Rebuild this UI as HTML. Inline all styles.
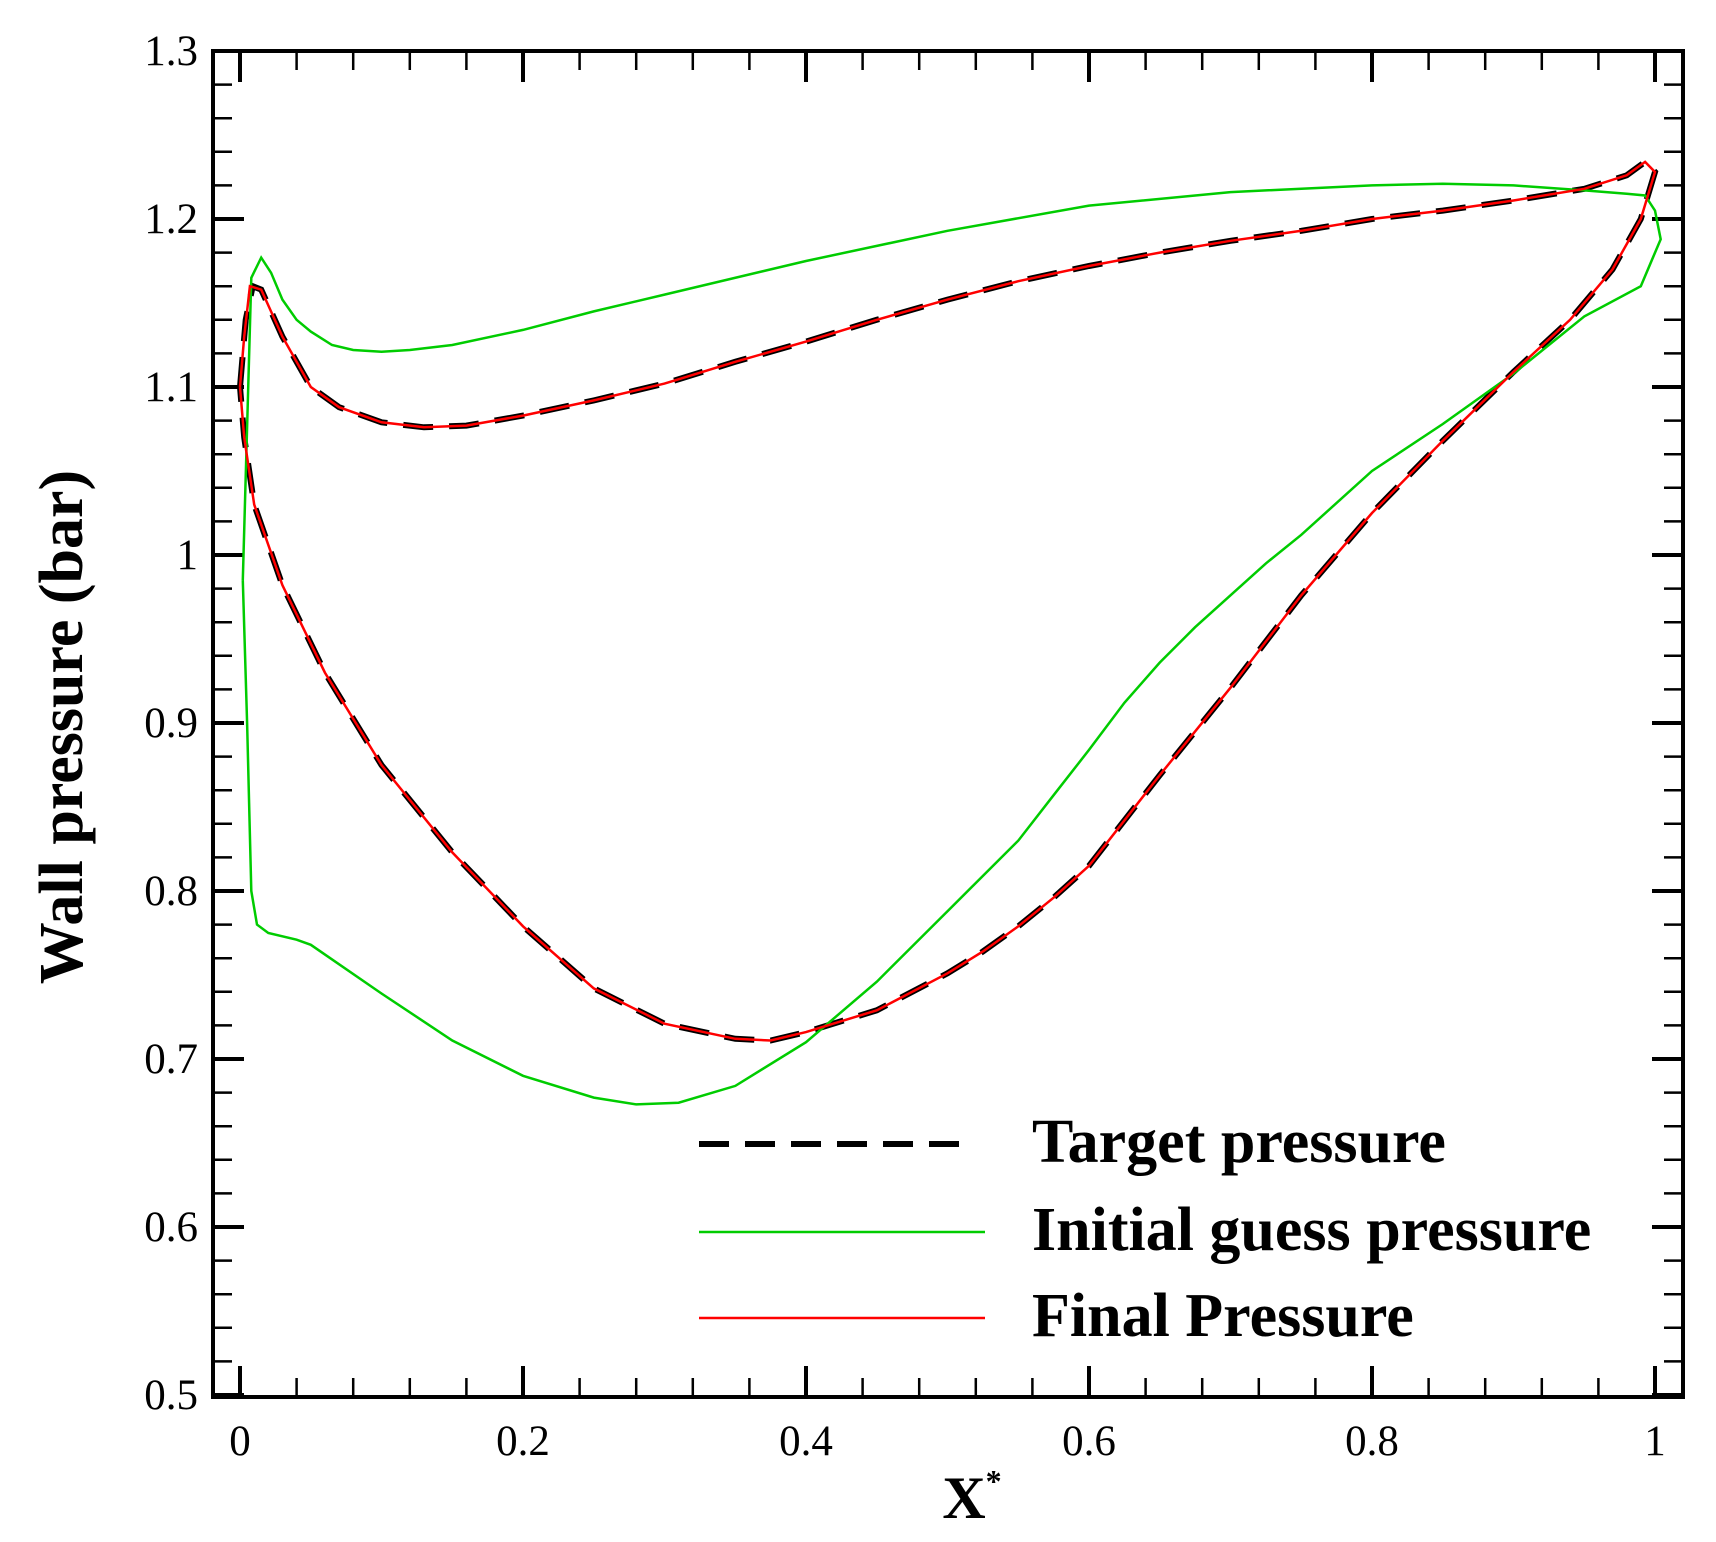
<!DOCTYPE html>
<html><head><meta charset="utf-8"><style>
html,body{margin:0;padding:0;background:#fff}
svg{display:block}
text{font-family:"Liberation Serif",serif;fill:#000}
</style></head><body>
<svg id="s" width="1716" height="1542" viewBox="0 0 1716 1542" xmlns="http://www.w3.org/2000/svg">
<g id="ticks" stroke="#000"></g>
<g id="curves" fill="none"></g>
<rect x="213" y="51" width="1470" height="1346" fill="none" stroke="#000" stroke-width="4"/>
<g id="labels" font-size="43"></g>
<text x="0" y="0" font-size="62" font-weight="bold" text-anchor="middle" transform="translate(82,727) rotate(-90)">Wall pressure (bar)</text>
<text x="972" y="1518" font-size="60" font-weight="bold" text-anchor="middle">X<tspan font-size="32" dy="-26">*</tspan></text>
<line x1="699" y1="1144" x2="968" y2="1144" stroke="#000" stroke-width="6" stroke-dasharray="30,16"/>
<line x1="699" y1="1232" x2="985" y2="1232" stroke="#00cc00" stroke-width="2.5"/>
<line x1="699" y1="1318" x2="985" y2="1318" stroke="#ff0000" stroke-width="2.5"/>
<text x="1032" y="1162" font-size="62" font-weight="bold">Target pressure</text>
<text x="1032" y="1250" font-size="62" font-weight="bold">Initial guess pressure</text>
<text x="1032" y="1336" font-size="62" font-weight="bold">Final Pressure</text>
</svg>
<script>
var X=function(v){return 240+v*1415}, Y=function(p){return 51+(1.3-p)*1680};
var NS="http://www.w3.org/2000/svg";
function el(par,tag,at){var e=document.createElementNS(NS,tag);for(var k in at)e.setAttribute(k,at[k]);document.getElementById(par).appendChild(e);return e;}
for(var i=0;i<=25;i++){var v=i*0.04,x=X(v),maj=(i%5==0),L=maj?31:19;
 el("ticks","line",{x1:x,y1:1397,x2:x,y2:1397-L,"stroke-width":maj?4:2.5});
 el("ticks","line",{x1:x,y1:51,x2:x,y2:51+L,"stroke-width":maj?4:2.5});}
for(var i=0;i<=40;i++){var p=0.5+i*0.02,y=Y(p),maj=(i%5==0),L=maj?31:19;
 el("ticks","line",{x1:213,y1:y,x2:213+L,y2:y,"stroke-width":maj?4:2.5});
 el("ticks","line",{x1:1683,y1:y,x2:1683-L,y2:y,"stroke-width":maj?4:2.5});}
var yl=["0.5","0.6","0.7","0.8","0.9","1","1.1","1.2","1.3"];
yl.forEach(function(t,i){var e=el("labels","text",{x:198,y:Y(0.5+i*0.1)+14,"text-anchor":"end"});e.textContent=t;});
var xl=["0","0.2","0.4","0.6","0.8","1"];
xl.forEach(function(t,i){var e=el("labels","text",{x:X(i*0.2),y:1455,"text-anchor":"middle"});e.textContent=t;});
function path(pts){return pts.map(function(q,i){return (i?"L":"M")+X(q[0]).toFixed(1)+","+Y(q[1]).toFixed(1)}).join(" ");}
var tgt=[[0,1.10],[0.004,1.14],[0.009,1.16],[0.015,1.158],[0.03,1.13],[0.05,1.10],[0.07,1.088],[0.1,1.079],[0.13,1.076],[0.16,1.077],[0.2,1.083],[0.25,1.092],[0.3,1.102],[0.35,1.115],[0.4,1.127],[0.45,1.14],[0.5,1.152],[0.55,1.163],[0.6,1.172],[0.65,1.18],[0.7,1.187],[0.75,1.193],[0.8,1.2],[0.85,1.205],[0.9,1.211],[0.95,1.218],[0.98,1.226],[0.993,1.234],[1.0,1.228],[0.99,1.20],[0.97,1.17],[0.94,1.14],[0.9,1.109],[0.85,1.068],[0.8,1.025],[0.75,0.976],[0.7,0.921],[0.65,0.869],[0.6,0.815],[0.575,0.796],[0.55,0.779],[0.525,0.764],[0.5,0.751],[0.45,0.729],[0.4,0.716],[0.375,0.711],[0.35,0.712],[0.3,0.721],[0.25,0.742],[0.2,0.779],[0.15,0.823],[0.1,0.875],[0.06,0.93],[0.03,0.982],[0.01,1.03],[0.003,1.07],[0,1.10]];
var fin=tgt.map(function(q){return q.slice()});
fin[1]=[0.003,1.13];fin[2]=[0.007,1.16];
var grn=[[0.002,0.985],[0.008,1.165],[0.015,1.177],[0.022,1.168],[0.03,1.152],[0.04,1.14],[0.05,1.133],[0.065,1.125],[0.08,1.122],[0.1,1.121],[0.12,1.122],[0.15,1.125],[0.2,1.134],[0.25,1.145],[0.3,1.155],[0.4,1.175],[0.5,1.193],[0.6,1.208],[0.7,1.216],[0.8,1.22],[0.85,1.221],[0.9,1.22],[0.95,1.217],[0.98,1.215],[0.993,1.214],[1.0,1.205],[1.004,1.188],[0.99,1.16],[0.95,1.142],[0.9,1.108],[0.85,1.078],[0.8,1.05],[0.75,1.012],[0.725,0.995],[0.7,0.976],[0.675,0.957],[0.65,0.936],[0.625,0.912],[0.6,0.884],[0.575,0.857],[0.55,0.83],[0.5,0.788],[0.45,0.746],[0.4,0.71],[0.35,0.684],[0.31,0.674],[0.28,0.673],[0.25,0.677],[0.2,0.69],[0.15,0.711],[0.1,0.739],[0.05,0.768],[0.04,0.771],[0.02,0.775],[0.012,0.78],[0.008,0.8],[0.005,0.9],[0.002,0.985]];
el("curves","path",{d:path(tgt),stroke:"#000","stroke-width":6,"stroke-dasharray":"30,16"});
el("curves","path",{d:path(grn),stroke:"#00cc00","stroke-width":2.5});
el("curves","path",{d:path(fin),stroke:"#ff0000","stroke-width":2.5});
</script>
</body></html>
